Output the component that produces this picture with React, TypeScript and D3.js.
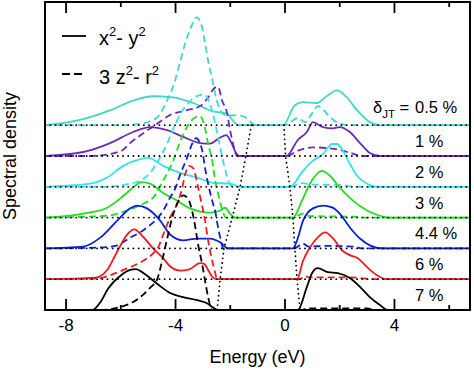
import React, { useEffect, useRef } from 'react';
import * as d3 from 'd3';

const W = 474;
const H = 370;

// one entry per Jahn-Teller distortion, top curve first
const deltaLabels = ['0.5 %', '1 %', '2 %', '3 %', '4.4 %', '6 %', '7 %'];
const colors = ['#3fd8c6', '#6a2bb8', '#33e3e8', '#22dd22', '#0a22d8', '#f21a1a', '#000000'];
const offsets = [6, 5, 4, 3, 2, 1, 0];

// spectral density: [energy (eV), density]
const d05Solid = [[-8.77,0],[-7.37,0.2],[-6.39,0.48],[-5.55,0.8],[-4.82,0.94],[-4.09,0.9],[-3.36,0.72],[-2.63,0.45],[-2.12,0.38],[-1.95,0.2],[-1.7,0],[-0.07,0],[0.36,0.65],[0.66,0.75],[1.17,0.72],[1.46,0.9],[1.9,1.13],[2.26,0.9],[2.63,0.49],[3.1,0.1],[3.47,0],[6.76,0]];
const d05Dashed = [[-8.77,0],[-6.0,0],[-5.3,0.04],[-4.93,0.13],[-4.6,0.32],[-4.31,0.8],[-4.05,1.35],[-3.85,2.0],[-3.65,2.65],[-3.45,3.15],[-3.23,3.5],[-3.05,3.25],[-2.92,2.65],[-2.8,2.05],[-2.66,1.5],[-2.52,0.9],[-2.37,0.5],[-2.15,0.32],[-1.8,0.32],[-1.5,0.28],[-1.3,0.15],[-1.1,0],[0.0,0],[0.47,0.23],[0.73,0.1],[1.0,0.4],[1.2,0.62],[1.4,0.5],[1.64,0.26],[2.0,0.06],[2.37,0],[6.76,0]];
const d1Solid = [[-8.77,0],[-7.37,0.13],[-6.39,0.42],[-5.55,0.78],[-4.93,0.94],[-4.31,0.84],[-3.72,0.62],[-3.1,0.42],[-2.74,0.4],[-2.37,0.6],[-2.15,0.68],[-1.97,0.45],[-1.79,0.1],[-1.64,0],[0.05,0],[0.47,0.52],[0.8,0.78],[1.02,1.1],[1.39,0.94],[1.75,0.9],[2.0,0.94],[2.37,0.78],[2.74,0.42],[3.1,0.1],[3.47,0],[6.76,0]];
const d1Dashed = [[-8.77,0],[-7.1,0],[-6.0,0.16],[-5.66,0.42],[-5.18,0.74],[-4.75,1.0],[-4.2,1.33],[-3.58,1.49],[-3.1,1.62],[-2.81,1.9],[-2.59,2.2],[-2.45,2.25],[-2.3,1.8],[-2.12,1.4],[-2.01,0.85],[-1.9,0.4],[-1.75,0],[0.05,0],[0.5,0.18],[1.0,0.28],[1.5,0.26],[2.0,0.2],[2.4,0.1],[2.8,0],[6.76,0]];
const d2Solid = [[-8.77,0],[-7.12,0.1],[-6.5,0.3],[-5.91,0.68],[-5.29,0.9],[-5.0,0.94],[-4.45,0.68],[-3.83,0.45],[-3.21,0.3],[-2.63,0.13],[-2.01,0.1],[-1.6,0],[0.18,0],[0.66,0.52],[1.02,0.84],[1.39,1.07],[1.72,1.39],[1.9,1.39],[2.12,1.17],[2.37,0.75],[2.63,0.36],[3.0,0.1],[3.36,0],[6.76,0]];
const d2Dashed = [[-8.77,0],[-6.5,0],[-5.8,0.08],[-5.3,0.2],[-4.93,0.45],[-4.6,0.9],[-4.31,1.4],[-4.05,1.95],[-3.8,2.4],[-3.5,2.75],[-3.2,2.95],[-2.96,3.0],[-2.74,2.68],[-2.55,2.05],[-2.42,1.5],[-2.28,0.9],[-2.15,0.45],[-2.05,0.15],[-1.9,0],[0.2,0],[0.6,0.12],[1.0,0.07],[2.0,0.06],[2.6,0],[6.76,0]];
const d3Solid = [[-8.77,0],[-7.37,0.13],[-6.5,0.32],[-5.91,0.7],[-5.45,1.05],[-5.25,1.15],[-4.93,1.1],[-4.45,0.8],[-3.94,0.55],[-3.47,0.3],[-2.74,0.16],[-2.37,0.23],[-2.19,0.32],[-2.01,0.13],[-1.82,0],[0.29,0],[0.62,0.55],[0.91,1.1],[1.35,1.52],[1.64,1.36],[2.0,0.97],[2.48,0.55],[3.0,0.23],[3.47,0.06],[3.83,0],[6.76,0]];
const d3Dashed = [[-8.77,0],[-6.5,0.06],[-5.77,0.23],[-5.18,0.45],[-4.82,0.65],[-4.45,1.2],[-4.09,1.84],[-3.83,2.48],[-3.54,3.0],[-3.28,3.25],[-3.1,3.28],[-2.92,2.9],[-2.81,2.4],[-2.66,1.85],[-2.55,1.2],[-2.45,0.8],[-2.34,0.4],[-2.15,0],[0.29,0],[0.66,0.13],[0.9,0.05],[2.5,0.03],[3.0,0],[6.76,0]];
const d44Solid = [[-8.77,0],[-7.37,0.06],[-6.75,0.35],[-6.13,0.9],[-5.66,1.3],[-5.4,1.39],[-5.04,1.3],[-4.56,0.9],[-4.2,0.45],[-3.72,0.26],[-3.21,0.32],[-2.74,0.32],[-2.37,0.2],[-2.08,0],[0.29,0],[0.44,0.26],[0.66,0.9],[1.02,1.3],[1.39,1.39],[1.72,1.33],[2.0,1.13],[2.37,0.68],[2.74,0.32],[3.1,0.1],[3.58,0],[6.76,0]];
const d44Dashed = [[-8.77,0],[-6.75,0.03],[-6.13,0.1],[-5.66,0.35],[-5.29,0.52],[-5.04,0.68],[-4.67,0.97],[-4.45,1.23],[-4.2,1.65],[-4.01,1.95],[-3.83,2.4],[-3.58,2.94],[-3.39,3.4],[-3.25,3.58],[-3.03,3.2],[-2.92,2.6],[-2.81,2.1],[-2.66,1.55],[-2.55,1.2],[-2.45,0.7],[-2.34,0.25],[-2.26,0],[0.33,0],[0.66,0.16],[0.85,0.06],[1.5,0.08],[2.5,0.06],[2.8,0],[6.76,0]];
const d6Solid = [[-8.77,0],[-6.93,0.05],[-6.5,0.3],[-6.13,0.9],[-5.77,1.45],[-5.51,1.62],[-5.18,1.37],[-4.82,1.0],[-4.45,0.68],[-4.2,0.42],[-3.83,0.28],[-3.5,0.32],[-3.1,0.52],[-2.95,0.5],[-2.81,0.3],[-2.66,0.08],[-2.5,0],[0.44,0],[0.66,0.6],[0.91,1.03],[1.2,1.36],[1.46,1.52],[1.75,1.33],[2.08,0.94],[2.37,0.78],[2.66,0.68],[3.0,0.39],[3.36,0.13],[3.72,0],[6.76,0]];
const d6Dashed = [[-8.77,0],[-6.86,0.02],[-6.39,0.13],[-5.77,0.35],[-5.18,0.6],[-4.82,0.84],[-4.6,1.1],[-4.45,1.45],[-4.2,2.0],[-3.94,2.45],[-3.76,2.95],[-3.65,3.4],[-3.5,3.68],[-3.35,3.6],[-3.18,3.0],[-3.07,2.55],[-2.92,1.9],[-2.81,1.26],[-2.66,0.6],[-2.55,0.2],[-2.48,0],[0.55,0],[0.7,0.1],[0.9,0.06],[2.0,0.06],[2.6,0.05],[3.2,0],[6.76,0]];
const d7Solid = [[-8.77,0],[-7.04,0],[-6.75,0.25],[-6.46,0.7],[-5.99,1.13],[-5.66,1.3],[-5.44,1.33],[-5.18,1.2],[-4.67,0.85],[-4.2,0.55],[-3.72,0.42],[-3.21,0.32],[-2.85,0.22],[-2.63,0.08],[-2.45,0],[0.47,0],[0.8,0.75],[0.99,1.2],[1.2,1.36],[1.57,1.23],[1.93,1.2],[2.37,1.04],[2.74,0.75],[3.1,0.42],[3.47,0.16],[3.76,0],[6.76,0]];
const d7Dashed = [[-8.77,0],[-6.75,0],[-6.02,0.1],[-5.55,0.26],[-5.18,0.5],[-4.93,0.72],[-4.67,1.0],[-4.49,1.6],[-4.31,2.3],[-4.12,3.0],[-3.94,3.45],[-3.72,3.72],[-3.54,3.6],[-3.39,3.2],[-3.28,2.7],[-3.18,2.15],[-3.03,1.5],[-2.92,0.95],[-2.81,0.42],[-2.66,0],[0.6,0],[0.8,0.05],[3.0,0.05],[3.3,0],[6.76,0]];

const solidCurves = [d05Solid, d1Solid, d2Solid, d3Solid, d44Solid, d6Solid, d7Solid];
const dashedCurves = [d05Dashed, d1Dashed, d2Dashed, d3Dashed, d44Dashed, d6Dashed, d7Dashed];

// band edges joined by the dotted guide lines
const vbEdge = [-1.23, -1.43, -1.64, -1.93, -2.23, -2.37, -2.48];
const cbEdge = [-0.04, 0.02, 0.18, 0.29, 0.36, 0.44, 0.55];

const xTicks = [-8, -6, -4, -2, 0, 2, 4, 6];
const xTickLabels = [-8, -4, 0, 4];

const FONT = 'Liberation Sans, Arial, Helvetica, sans-serif';

const App = () => {
  const ref = useRef<SVGSVGElement>(null);

  useEffect(() => {
    const svg = d3.select(ref.current);
    svg.selectAll('*').remove();

    const x = d3.scaleLinear().domain([-8.77, 6.76]).range([45, 470]);
    const y = d3.scaleLinear().domain([0, 10]).range([310, 2]);

    svg.append('clipPath').attr('id', 'plot-clip')
      .append('rect')
      .attr('x', x.range()[0]).attr('y', y.range()[1])
      .attr('width', x.range()[1] - x.range()[0])
      .attr('height', y.range()[0] - y.range()[1]);

    const g = svg.append('g').attr('clip-path', 'url(#plot-clip)');

    // curves
    deltaLabels.forEach((_, i) => {
      const off = offsets[i];
      const line = d3.line<number[]>()
        .x(d => x(d[0]))
        .y(d => y(d[1] + off))
        .curve(d3.curveMonotoneX);
      g.append('path')
        .attr('d', line(solidCurves[i]))
        .attr('fill', 'none')
        .attr('stroke', colors[i])
        .attr('stroke-width', 1.8);
      g.append('path')
        .attr('d', line(dashedCurves[i]))
        .attr('fill', 'none')
        .attr('stroke', colors[i])
        .attr('stroke-width', 1.8)
        .attr('stroke-dasharray', '7,4');
    });

    // dotted baselines
    offsets.filter(o => o > 0).forEach(o => {
      g.append('line')
        .attr('x1', x.range()[0]).attr('x2', x.range()[1])
        .attr('y1', y(o)).attr('y2', y(o))
        .attr('stroke', '#000')
        .attr('stroke-width', 1.8)
        .attr('stroke-linecap', 'round')
        .attr('stroke-dasharray', '0.1,5.1');
    });

    // dotted band-edge guides
    const edgeLine = d3.line<number>()
      .x(d => x(d))
      .y((_, i) => y(offsets[i]));
    [vbEdge, cbEdge].forEach(edge => {
      g.append('path')
        .attr('d', edgeLine(edge))
        .attr('fill', 'none')
        .attr('stroke', '#000')
        .attr('stroke-width', 1.8)
        .attr('stroke-linecap', 'round')
        .attr('stroke-dasharray', '0.1,4.6');
    });

    // frame and ticks
    svg.append('rect')
      .attr('x', x.range()[0]).attr('y', y.range()[1])
      .attr('width', x.range()[1] - x.range()[0])
      .attr('height', y.range()[0] - y.range()[1])
      .attr('fill', 'none')
      .attr('stroke', '#000')
      .attr('stroke-width', 2);

    xTicks.forEach(t => {
      const len = t % 4 === 0 ? 11 : 5;
      svg.append('line')
        .attr('x1', x(t)).attr('x2', x(t))
        .attr('y1', y.range()[0]).attr('y2', y.range()[0] - len)
        .attr('stroke', '#000').attr('stroke-width', 1.8);
      svg.append('line')
        .attr('x1', x(t)).attr('x2', x(t))
        .attr('y1', y.range()[1]).attr('y2', y.range()[1] + len)
        .attr('stroke', '#000').attr('stroke-width', 1.8);
    });

    xTickLabels.forEach(t => {
      svg.append('text')
        .attr('x', x(t)).attr('y', 331)
        .attr('text-anchor', 'middle')
        .attr('font-family', FONT)
        .attr('font-size', 17)
        .text(t === 0 ? '0' : String(t));
    });

    svg.append('text')
      .attr('x', (x.range()[0] + x.range()[1]) / 2).attr('y', 363)
      .attr('text-anchor', 'middle')
      .attr('font-family', FONT)
      .attr('font-size', 18)
      .text('Energy (eV)');

    svg.append('text')
      .attr('transform', `translate(16,${(y.range()[0] + y.range()[1]) / 2}) rotate(-90)`)
      .attr('text-anchor', 'middle')
      .attr('font-family', FONT)
      .attr('font-size', 18)
      .text('Spectral density');

    // delta labels on the right
    deltaLabels.forEach((lab, i) => {
      const by = y(offsets[i]) - (i === 0 ? 12 : 9);
      svg.append('text')
        .attr('x', 415).attr('y', by)
        .attr('font-family', FONT)
        .attr('font-size', 16.5)
        .text(lab);
      if (i === 0) {
        const t = svg.append('text')
          .attr('x', 373).attr('y', by)
          .attr('font-family', FONT)
          .attr('font-size', 16.5);
        t.append('tspan').text('\u03b4');
        t.append('tspan').attr('dy', 5).attr('font-size', 11.5).text('JT');
        t.append('tspan').attr('dy', -5).text(' =');
      }
    });

    // legend
    const legend = [
      { dash: null, base: 'x', sup1: '2', mid: '- y', sup2: '2', ly: 36, ty: 45 },
      { dash: '8,4', base: '3 z', sup1: '2', mid: '- r', sup2: '2', ly: 74, ty: 84 },
    ];
    legend.forEach(l => {
      svg.append('line')
        .attr('x1', 62).attr('x2', 86)
        .attr('y1', l.ly).attr('y2', l.ly)
        .attr('stroke', '#000').attr('stroke-width', 1.8)
        .attr('stroke-dasharray', l.dash);
      const t = svg.append('text')
        .attr('x', 99).attr('y', l.ty)
        .attr('font-family', FONT)
        .attr('font-size', 20);
      t.append('tspan').text(l.base);
      t.append('tspan').attr('dy', -9).attr('font-size', 13).text(l.sup1);
      t.append('tspan').attr('dy', 9).text(l.mid);
      t.append('tspan').attr('dy', -9).attr('font-size', 13).text(l.sup2);
    });
  }, []);

  return (
    <svg
      ref={ref}
      width={W}
      height={H}
      style={{ position: 'absolute', left: 0, top: 0, background: '#fff' }}
    />
  );
};

export default App;
